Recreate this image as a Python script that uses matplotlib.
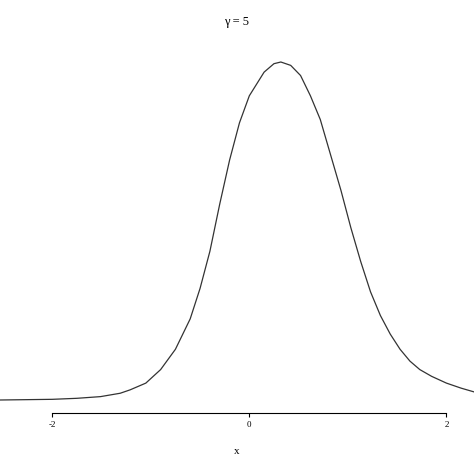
import matplotlib
matplotlib.use("Agg")
import matplotlib.pyplot as plt

# values (x, relative height)
x_vals = [-2.53, -2.0, -1.75, -1.51, -1.31, -1.21, -1.05, -0.90, -0.75, -0.60,
          -0.50, -0.40, -0.30, -0.20, -0.10, 0.0, 0.15, 0.25, 0.32, 0.42,
          0.52, 0.62, 0.72, 0.82, 0.93, 1.03, 1.13, 1.23, 1.33, 1.43,
          1.53, 1.63, 1.73, 1.85, 2.0, 2.15, 2.28]
y_vals = [0.0, 0.002, 0.005, 0.01, 0.02, 0.03, 0.05, 0.09, 0.15, 0.24,
          0.33, 0.44, 0.58, 0.71, 0.82, 0.90, 0.97, 0.995, 1.0, 0.99,
          0.96, 0.90, 0.83, 0.73, 0.62, 0.51, 0.41, 0.32, 0.25, 0.195,
          0.15, 0.115, 0.09, 0.07, 0.05, 0.035, 0.024]
ticks = [-2, 0, 2]

plt.rcParams['font.family'] = ['Liberation Serif', 'DejaVu Serif']
fig = plt.figure(figsize=(4.74, 4.74), dpi=100)
ax = fig.add_axes([0, 74 / 474, 1, 338 / 474])
ax.plot(x_vals, y_vals, color='#333333', linewidth=0.9, clip_on=False)
ax.set_xlim(-2.53, 2.28)
ax.set_ylim(0, 1)
for s in ['top', 'left', 'right']:
    ax.spines[s].set_visible(False)
ax.spines['bottom'].set_position(('outward', 9.4))
ax.spines['bottom'].set_bounds(-2, 2)
ax.spines['bottom'].set_linewidth(0.8)
ax.set_yticks([])
ax.set_xticks(ticks)
ax.set_xticklabels([str(t) for t in ticks], fontsize=6.5)
ax.tick_params(axis='x', length=3, width=0.8, pad=3)
ax.set_xlabel('x', fontsize=8, labelpad=13)
fig.text(0.5, 1 - 22 / 474, 'γ = 5', ha='center', va='center', fontsize=9)
fig.savefig('out.png', dpi=100)
